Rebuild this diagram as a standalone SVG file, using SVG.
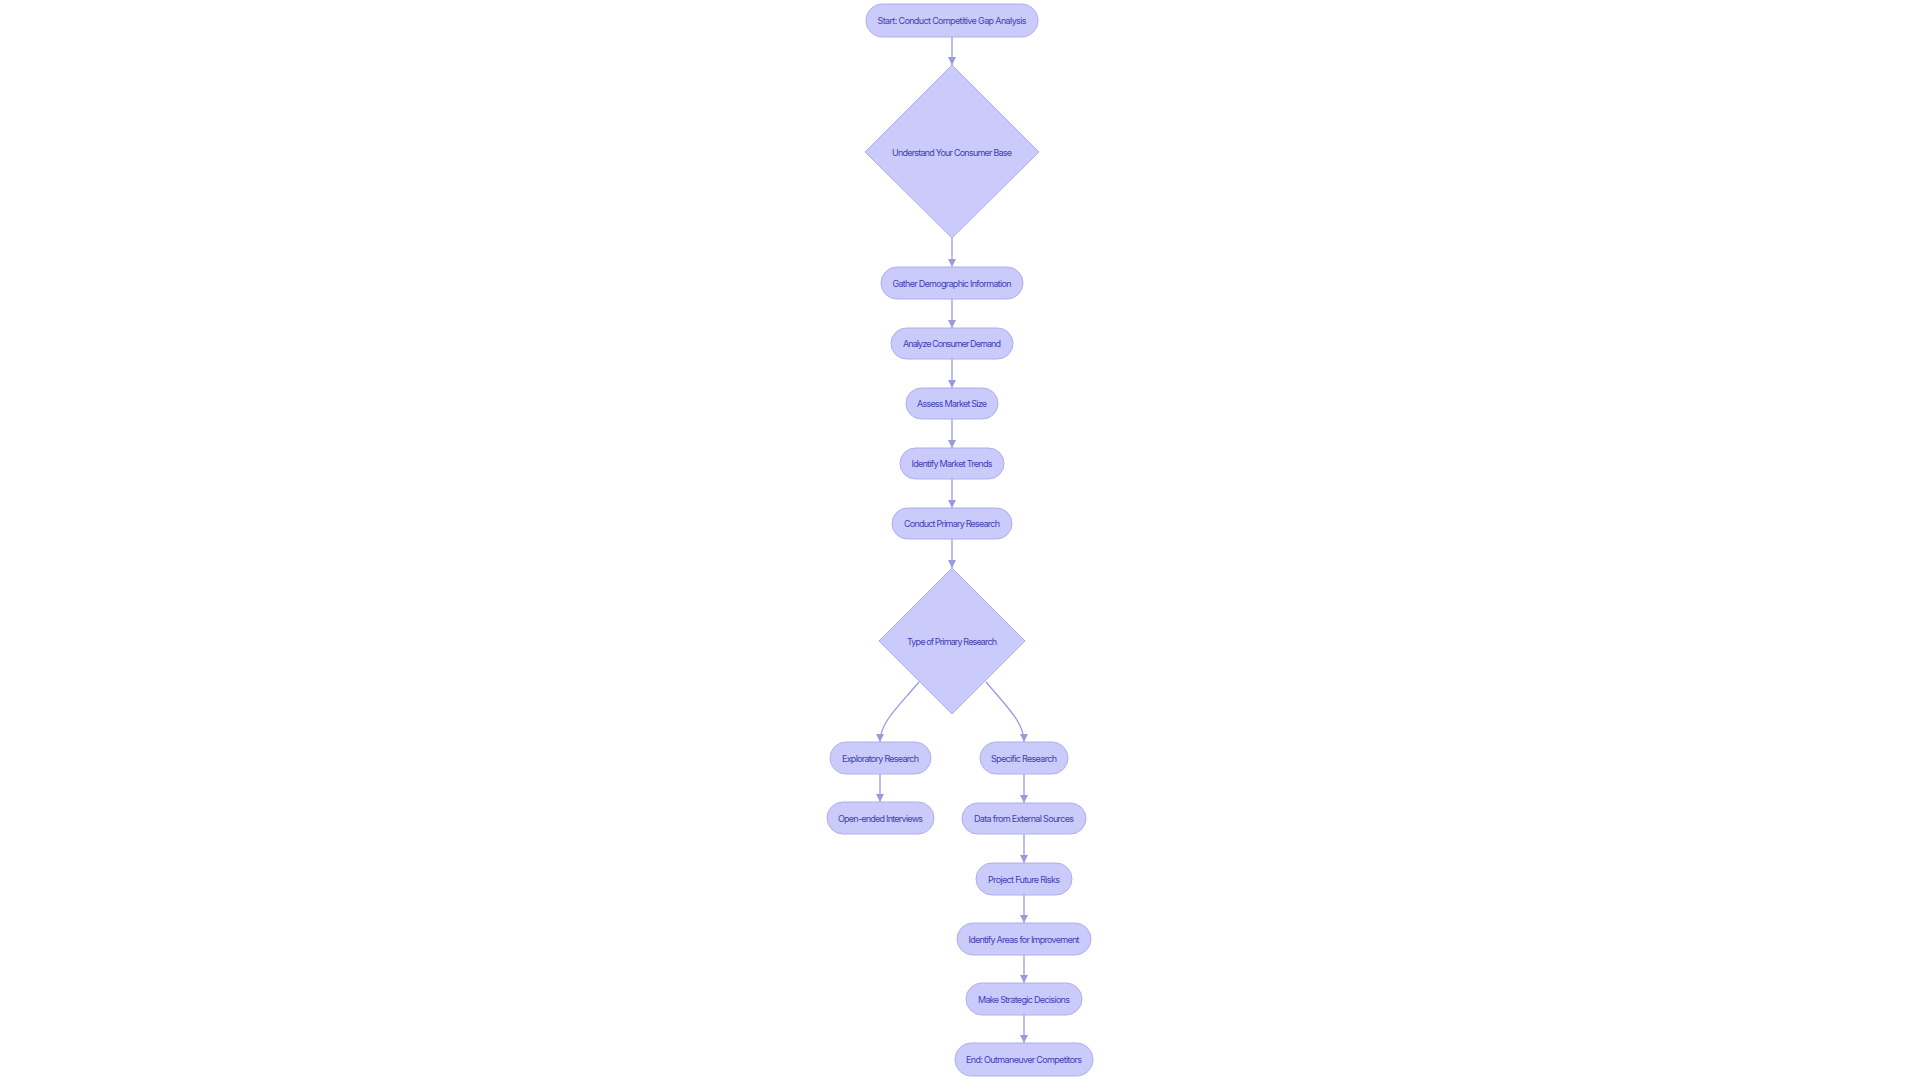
<svg xmlns="http://www.w3.org/2000/svg" width="1920" height="1080" viewBox="0 0 1920 1080">
<style>
.n{fill:#cbcbfb;stroke:#aeaeec;stroke-width:1}
.t{font-family:Inter,"Liberation Sans",sans-serif;font-size:9px;font-weight:400;fill:#4040b2;text-anchor:middle;dominant-baseline:central}
.e{fill:none;stroke:#9a9ade;stroke-width:1.3}
</style>
<defs>
<marker id="ah" viewBox="0 0 10 10" refX="10" refY="5" markerWidth="8" markerHeight="8" markerUnits="userSpaceOnUse" orient="auto">
<path d="M0,0 L10,5 L0,10 z" fill="#9a9ade"/>
</marker>
</defs>
<rect width="1920" height="1080" fill="#ffffff"/>
<g id="edges">
<path class="e" d="M952,37 L952,65" marker-end="url(#ah)"/>
<path class="e" d="M952,238 L952,267" marker-end="url(#ah)"/>
<path class="e" d="M952,299 L952,328" marker-end="url(#ah)"/>
<path class="e" d="M952,359 L952,388" marker-end="url(#ah)"/>
<path class="e" d="M952,419 L952,448" marker-end="url(#ah)"/>
<path class="e" d="M952,479 L952,508" marker-end="url(#ah)"/>
<path class="e" d="M952,539 L952,568" marker-end="url(#ah)"/>
<path class="e" d="M919,682 C899,706 880,722 880,742" marker-end="url(#ah)"/>
<path class="e" d="M986,682 C1006,706 1024,722 1024,742" marker-end="url(#ah)"/>
<path class="e" d="M880,774 L880,802" marker-end="url(#ah)"/>
<path class="e" d="M1024,774 L1024,803" marker-end="url(#ah)"/>
<path class="e" d="M1024,834 L1024,863" marker-end="url(#ah)"/>
<path class="e" d="M1024,895 L1024,923" marker-end="url(#ah)"/>
<path class="e" d="M1024,955 L1024,983" marker-end="url(#ah)"/>
<path class="e" d="M1024,1015 L1024,1043" marker-end="url(#ah)"/>
</g>
<g id="start"><rect class="n" x="866" y="4" width="172" height="33" rx="16.5"/><text class="t" x="952" y="20.5" textLength="149" lengthAdjust="spacing">Start: Conduct Competitive Gap Analysis</text></g>
<g id="understand"><polygon class="n" points="952,65 1039,152 952,238 865,152"/><text class="t" x="952" y="152" textLength="120" lengthAdjust="spacing">Understand Your Consumer Base</text></g>
<g id="gather"><rect class="n" x="881" y="267" width="142" height="32" rx="16"/><text class="t" x="952" y="283" textLength="119" lengthAdjust="spacing">Gather Demographic Information</text></g>
<g id="analyze"><rect class="n" x="891" y="328" width="122" height="31" rx="15.5"/><text class="t" x="952" y="343.5" textLength="98" lengthAdjust="spacing">Analyze Consumer Demand</text></g>
<g id="assess"><rect class="n" x="906" y="388" width="92" height="31" rx="15.5"/><text class="t" x="952" y="403.5" textLength="70" lengthAdjust="spacing">Assess Market Size</text></g>
<g id="trends"><rect class="n" x="900" y="448" width="104" height="31" rx="15.5"/><text class="t" x="952" y="463.5" textLength="81" lengthAdjust="spacing">Identify Market Trends</text></g>
<g id="primary"><rect class="n" x="892" y="508" width="120" height="31" rx="15.5"/><text class="t" x="952" y="523.5" textLength="96" lengthAdjust="spacing">Conduct Primary Research</text></g>
<g id="type"><polygon class="n" points="952,568 1025,641 952,714 879,641"/><text class="t" x="952" y="641" textLength="90" lengthAdjust="spacing">Type of Primary Research</text></g>
<g id="exploratory"><rect class="n" x="830" y="742" width="101" height="32" rx="16"/><text class="t" x="880.5" y="758" textLength="77" lengthAdjust="spacing">Exploratory Research</text></g>
<g id="specific"><rect class="n" x="980" y="742" width="88" height="32" rx="16"/><text class="t" x="1024" y="758" textLength="66" lengthAdjust="spacing">Specific Research</text></g>
<g id="interviews"><rect class="n" x="827" y="802" width="107" height="32" rx="16"/><text class="t" x="880.5" y="818" textLength="85" lengthAdjust="spacing">Open-ended Interviews</text></g>
<g id="external"><rect class="n" x="962" y="803" width="124" height="31" rx="15.5"/><text class="t" x="1024" y="818.5" textLength="100" lengthAdjust="spacing">Data from External Sources</text></g>
<g id="risks"><rect class="n" x="976" y="863" width="96" height="32" rx="16"/><text class="t" x="1024" y="879" textLength="72" lengthAdjust="spacing">Project Future Risks</text></g>
<g id="improvement"><rect class="n" x="957" y="923" width="134" height="32" rx="16"/><text class="t" x="1024" y="939" textLength="111" lengthAdjust="spacing">Identify Areas for Improvement</text></g>
<g id="decisions"><rect class="n" x="966" y="983" width="116" height="32" rx="16"/><text class="t" x="1024" y="999" textLength="92" lengthAdjust="spacing">Make Strategic Decisions</text></g>
<g id="end"><rect class="n" x="955" y="1043" width="138" height="33" rx="16.5"/><text class="t" x="1024" y="1059.5" textLength="116" lengthAdjust="spacing">End: Outmaneuver Competitors</text></g>
</svg>
